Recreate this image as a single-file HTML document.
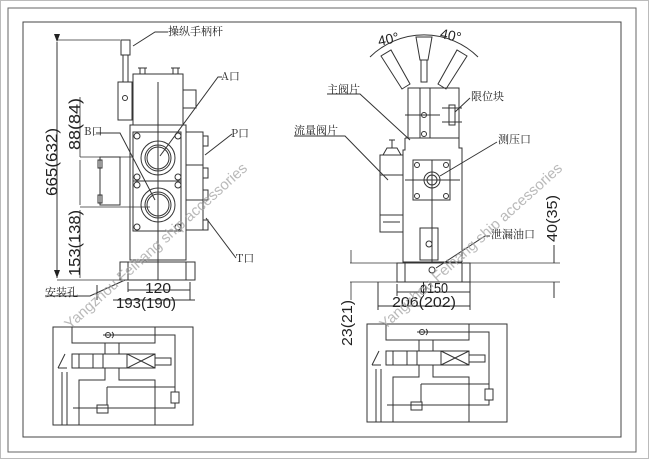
<!DOCTYPE html>
<html><head><meta charset="utf-8"><style>
html,body{margin:0;padding:0;background:#fff;}
svg{display:block;}
text{font-family:"Liberation Sans","Noto Sans CJK SC",sans-serif;}
.cn{font-family:"Noto Serif CJK SC","Noto Sans CJK SC",serif;font-size:11px;fill:#222;}
.dim{font-family:"DejaVu Sans","Liberation Sans",sans-serif;font-size:14px;fill:#222;}
</style></head><body>
<svg width="650" height="460" viewBox="0 0 650 460" xmlns="http://www.w3.org/2000/svg">
<defs>
<marker id="ar" markerWidth="8" markerHeight="6" refX="8" refY="3" orient="auto"><path d="M0,0 L8,3 L0,6 z" fill="#222"/></marker>
<g id="sch" fill="none" stroke="#333" stroke-width="1">
 <rect x="0" y="0" width="140" height="98"/>
 <path d="M19,0 V16 H102 V0"/>
 <path d="M50,8 H122 V65 M122,76 V81 H20"/>
 <circle cx="55" cy="8" r="2.5"/><path d="M59,5 q3,3 0,6"/>
 <rect x="19" y="27" width="55" height="14"/>
 <path d="M26,27 V41 M40,27 V41 M50,27 V41"/>
 <rect x="74" y="27" width="28" height="14"/><path d="M74,27 L102,41 M74,41 L102,27"/>
 <rect x="102" y="31" width="16" height="7"/>
 <path d="M52,16 V27 M66,16 V27 M52,41 V53 H26 V98 M66,41 V53 H102 V98"/>
 <path d="M54,60 H122 M54,60 V78"/>
 <rect x="44" y="78" width="11" height="8"/>
 <rect x="118" y="65" width="8" height="11"/>
 <path d="M5,41 L12,27 M9,45 V98 M14,45 V98 M5,41 H14"/>
</g>
</defs>
<rect x="0" y="0" width="650" height="460" fill="#fff"/>
<rect x="0.5" y="0.5" width="648" height="458" fill="none" stroke="#bbb"/>
<rect x="8" y="8" width="628" height="444" fill="none" stroke="#666"/>
<rect x="23" y="22" width="598" height="415" fill="none" stroke="#444"/>

<g fill="none" stroke="#333" stroke-width="1">
<rect x="121" y="40" width="9" height="15"/>
<rect x="123" y="55" width="5" height="27"/>
<rect x="118" y="82" width="14" height="38"/><circle cx="125" cy="98" r="2.5"/>
<rect x="133" y="74" width="50" height="51"/>
<path d="M140,68 V74 M145,68 V74 M173,68 V74 M178,68 V74 M138,68 H147 M171,68 H180"/>
<rect x="183" y="90" width="13" height="18"/>
<rect x="130" y="125" width="56" height="135"/>
<rect x="133" y="132" width="48" height="99"/>
<path d="M133,181 H181"/>
<circle cx="158" cy="158" r="17"/><circle cx="158" cy="158" r="13"/><circle cx="158" cy="158" r="11"/>
<circle cx="158" cy="205" r="17"/><circle cx="158" cy="205" r="13"/><circle cx="158" cy="205" r="11"/>
<circle cx="137" cy="136" r="3"/><circle cx="178" cy="136" r="3"/><circle cx="137" cy="177" r="3"/><circle cx="178" cy="177" r="3"/>
<circle cx="137" cy="185" r="3"/><circle cx="178" cy="185" r="3"/><circle cx="137" cy="227" r="3"/><circle cx="178" cy="227" r="3"/>
<rect x="186" y="132" width="17" height="98"/>
<path d="M186,165 H203 M186,200 H203"/>
<rect x="203" y="136" width="5" height="10"/><rect x="203" y="168" width="5" height="10"/><rect x="203" y="190" width="5" height="10"/><rect x="203" y="220" width="5" height="10"/>
<rect x="100" y="157" width="20" height="48"/><rect x="98" y="160" width="4" height="8"/><rect x="98" y="195" width="4" height="8"/>
<rect x="120" y="262" width="75" height="18"/>
<path d="M128,262 V280 M186,262 V280"/>
<path d="M158,82 V280"/>
<path d="M57,40 H120 M57,280 H120" stroke-width="0.7"/>
<path d="M57,42 V278" marker-start="url(#ar)" marker-end="url(#ar)"/>
<path d="M80,157 H133 M80,207 H150" stroke-width="0.7"/>
<path d="M80,97 V157 M80,160 V205 M80,210 V278" stroke-width="0.8"/>
<path d="M97,285 V300 M190,282 V300 M113,300 H195"/>
<path d="M128,282 V292 M128,290 H190"/>
<path d="M168,32 H155 L133,46"/>
<path d="M222,77 L218,77 L160,156"/>
<path d="M96,133 L120,133 L155,200"/>
<path d="M232,134 L205,155"/>
<path d="M236,258 L206,218"/>
<path d="M45,296 H90 L125,280"/>

<path d="M370,57 A77,77 0 0 1 478,57"/>
<path d="M416,37 L432,37 L428,60 L420,60 z"/>
<rect x="421" y="60" width="6" height="22"/>
<path d="M381,56 L391,50 L410,84 L402,89 z"/>
<path d="M467,56 L457,50 L438,84 L446,89 z"/>
<rect x="408" y="88" width="51" height="50"/>
<rect x="420" y="88" width="10" height="50"/>
<path d="M405,115 H440 M442,108 H462 M442,122 H462"/>
<circle cx="424" cy="115" r="2.5"/><circle cx="424" cy="134" r="2.5"/>
<rect x="449" y="105" width="6" height="20"/>
<path d="M405,138 H459 V148 H462 V262 M405,138 V150 H403 V262 H462"/>
<rect x="413" y="160" width="37" height="40"/>
<circle cx="417" cy="165" r="2.5"/><circle cx="446" cy="165" r="2.5"/><circle cx="417" cy="196" r="2.5"/><circle cx="446" cy="196" r="2.5"/>
<circle cx="432" cy="180" r="8"/><circle cx="432" cy="180" r="5"/>
<path d="M405,180 H460 M432,160 V262"/>
<rect x="420" y="228" width="18" height="32"/><circle cx="429" cy="244" r="3"/>
<rect x="380" y="155" width="23" height="77"/>
<path d="M383,155 L387,148 H397 L401,155 M392,140 V148 M389,140 H395"/>
<path d="M380,175 H403 M380,215 H403 M383,222 H400"/>
<rect x="397" y="263" width="73" height="19"/>
<path d="M405,263 V282 M462,263 V282"/>
<circle cx="432" cy="270" r="3"/>
<path d="M350,263 H560 M350,282 H560" stroke-width="0.7"/>
<path d="M554,245 V263 M554,282 V298"/>
<path d="M351,250 V263 M351,282 V300" stroke-width="0.8"/>
<path d="M378,282 V310 M470,282 V310 M378,306 H470"/>
<path d="M397,284 V296 M397,292 H470"/>
<path d="M327,94 H360 L410,140"/>
<path d="M294,136 H345 L388,180"/>
<path d="M470,98 L455,112"/>
<path d="M497,142 L440,176"/>
<path d="M490,236 H485 L436,268"/>
</g>

<g>
<text class="cn" x="168" y="35">操纵手柄杆</text>
<text class="cn" x="221" y="80">A口</text>
<text class="cn" x="84" y="135">B口</text>
<text class="cn" x="231" y="137">P口</text>
<text class="cn" x="236" y="262">T口</text>
<text class="cn" x="45" y="296">安装孔</text>
<text class="cn" x="327" y="93">主阀片</text>
<text class="cn" x="294" y="134">流量阀片</text>
<text class="cn" x="471" y="100">限位块</text>
<text class="cn" x="498" y="143">测压口</text>
<text class="cn" x="491" y="238">泄漏油口</text>
</g>
<g class="dim">
<text transform="translate(57,196) rotate(-90)" textLength="68" lengthAdjust="spacingAndGlyphs" font-size="16">665(632)</text>
<text transform="translate(80,150) rotate(-90)" textLength="52" lengthAdjust="spacingAndGlyphs" font-size="16">88(84)</text>
<text transform="translate(80,276) rotate(-90)" textLength="66" lengthAdjust="spacingAndGlyphs" font-size="16">153(138)</text>
<text x="145" y="293" textLength="26" lengthAdjust="spacingAndGlyphs" font-size="15">120</text>
<text x="116" y="308" textLength="60" lengthAdjust="spacingAndGlyphs" font-size="15">193(190)</text>
<text x="420" y="293" textLength="28" lengthAdjust="spacingAndGlyphs" font-size="15">ϕ150</text>
<text x="392" y="307" textLength="64" lengthAdjust="spacingAndGlyphs" font-size="15">206(202)</text>
<text transform="translate(557,242) rotate(-90)" textLength="47" lengthAdjust="spacingAndGlyphs" font-size="15">40(35)</text>
<text transform="translate(352,346) rotate(-90)" textLength="46" lengthAdjust="spacingAndGlyphs" font-size="15">23(21)</text>
<text x="378" y="44" transform="rotate(-12 388 40)">40°</text>
<text x="440" y="40" transform="rotate(12 450 36)">40°</text>
</g>

<use href="#sch" x="53" y="327"/>
<use href="#sch" x="367" y="324"/>

<g fill="#a8a8a8" font-family="Liberation Serif, serif" font-size="15" opacity="0.8">
<text transform="translate(70,330) rotate(-42)">Yangzhou Feihang ship accessories</text>
<text transform="translate(385,330) rotate(-42)">Yangzhou Feihang ship accessories</text>
</g>
</svg>
</body></html>
